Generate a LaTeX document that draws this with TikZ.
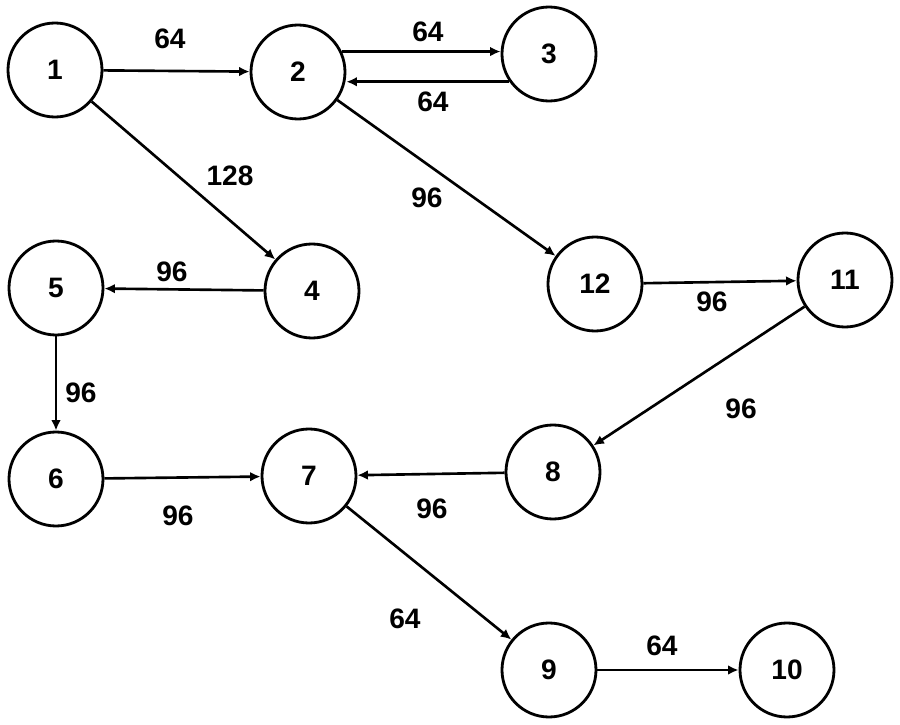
\documentclass[tikz,border=0pt]{standalone}
\usepackage{fontspec}
\setmainfont{Liberation Sans}
\usetikzlibrary{arrows.meta}

\begin{document}
\begin{tikzpicture}[>={Latex[length=6pt,width=5.5pt]},
    vertex/.style={draw,circle,line width=1.6pt,minimum size=1.88cm,inner sep=0pt,
        font=\fontsize{16}{19}\selectfont\bfseries},
    wt/.style={font=\fontsize{16}{19}\selectfont\bfseries,inner sep=0pt},
    link/.style={->,line width=1.5pt}]
\useasboundingbox (0,0) rectangle (18,14.48);

\node[vertex] (n1) at (1.10,13.08) {1};
\node[vertex] (n2) at (5.96,13.04) {2};
\node[vertex] (n3) at (10.98,13.40) {3};
\node[vertex] (n4) at (6.24,8.66) {4};
\node[vertex] (n5) at (1.12,8.72) {5};
\node[vertex] (n6) at (1.12,4.90) {6};
\node[vertex] (n7) at (6.18,4.96) {7};
\node[vertex] (n8) at (11.06,5.04) {8};
\node[vertex] (n9) at (10.98,1.08) {9};
\node[vertex] (n10) at (15.74,1.08) {10};
\node[vertex] (n11) at (16.90,8.88) {11};
\node[vertex] (n12) at (11.90,8.80) {12};

\draw[link] (n1) -- (n2);
\draw[link] (n2.25) -- (n3.west|-n2.25);
\draw[link] (n3.215) -- (n2.east|-n3.215);
\draw[link] (n1) -- (n4);
\draw[link] (n2) -- (n12);
\draw[link] (n4) -- (n5);
\draw[link] (n5) -- (n6);
\draw[link] (n6) -- (n7);
\draw[link] (n12) -- (n11);
\draw[link] (n11) -- (n8);
\draw[link] (n8) -- (n7);
\draw[link] (n7) -- (n9);
\draw[link] (n9) -- (n10);

% weights
\node[wt] (w12) at (3.40,13.70) {64};
\node[wt] (w23) at (8.56,13.84) {64};
\node[wt] (w32) at (8.66,12.44) {64};
\node[wt] (w14) at (4.60,10.96) {128};
\node[wt] (w212) at (8.54,10.52) {96};
\node[wt] (w45) at (3.44,9.04) {96};
\node[wt] (w56) at (1.62,6.62) {96};
\node[wt] (w1211) at (14.24,8.44) {96};
\node[wt] (w118) at (14.82,6.30) {96};
\node[wt] (w67) at (3.56,4.16) {96};
\node[wt] (w87) at (8.64,4.30) {96};
\node[wt] (w79) at (8.10,2.10) {64};
\node[wt] (w910) at (13.24,1.56) {64};

\end{tikzpicture}
\end{document}
